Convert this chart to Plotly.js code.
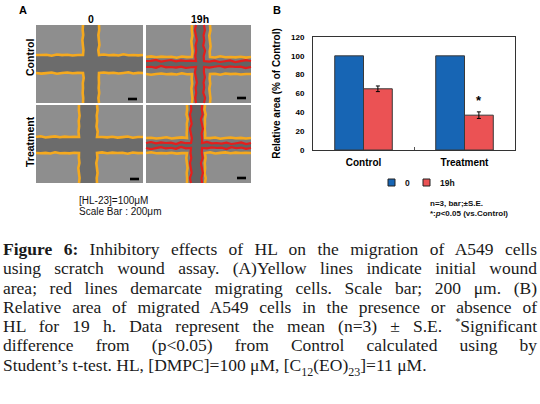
<!DOCTYPE html>
<html><head><meta charset="utf-8">
<script src="https://cdn.plot.ly/plotly-3.0.1.min.js"></script>
<style>
html,body{margin:0;padding:0;background:#fff;width:540px;height:404px;overflow:hidden}
#chart{position:absolute;left:0;top:0;width:540px;height:404px}
#cap{position:absolute;left:3px;top:240px;width:534px;font-family:"Liberation Serif","DejaVu Serif",serif;font-size:17.5px;line-height:19.3px;color:#1a1a1a}
#cap div{text-align:justify;text-align-last:justify;white-space:nowrap}
#cap div.last{text-align-last:left}
</style></head>
<body>
<div id="chart"></div>
<div id="cap">
<div><b>Figure 6:</b> Inhibitory effects of HL on the migration of A549 cells</div>
<div>using scratch wound assay. (A)Yellow lines indicate initial wound</div>
<div>area; red lines demarcate migrating cells. Scale bar; 200 μm. (B)</div>
<div>Relative area of migrated A549 cells in the presence or absence of</div>
<div>HL for 19 h. Data represent the mean (n=3) ± S.E. <sup style="font-size:10px;line-height:0">*</sup>Significant</div>
<div>difference from (p&lt;0.05) from Control calculated using by</div>
<div class="last">Student’s t-test. HL, [DMPC]=100 μM, [C<sub style="font-size:12px;line-height:0">12</sub>(EO)<sub style="font-size:12px;line-height:0">23</sub>]=11 μM.</div>
</div>
<script>
// ---- data ----
const categories = ['Control', 'Treatment'];
const seriesNames = ['0', '19h'];
const hour0 = [100, 100];
const hour19 = [65, 37];
const hour19SE = [3, 3.5];
const signif = ['', '*'];
const seriesColors = ['#1765b4', '#eb5254'];
const yTicks = [0, 20, 40, 60, 80, 100, 120];

const W = 540, H = 404;
const px = x => x / W, py = y => 1 - y / H;
const FONT = '"Liberation Sans", Arial, sans-serif';
const BARGAP = 0.43;

const traces = [
  {type: 'bar', x: categories, y: hour0, name: seriesNames[0],
   marker: {color: seriesColors[0], line: {color: '#3a3a3a', width: 1}}, hoverinfo: 'y'},
  {type: 'bar', x: categories, y: hour19, name: seriesNames[1],
   marker: {color: seriesColors[1], line: {color: '#3a3a3a', width: 1}},
   error_y: {type: 'data', array: hour19SE, visible: true, color: '#000', thickness: 1, width: 2}, hoverinfo: 'y'}
];

// ---- panel A (decorative micrograph sketches) ----
const P = [0, 0.5, -0.3, 0.9, 0.2, -0.6, 1, 0.1, -0.8, 0.4, -0.2, 0.7, -1, 0.3];
function jagPath(points, amp, step, phase) {
  let d = '', k = phase || 0;
  for (let i = 0; i < points.length - 1; i++) {
    const [x1, y1] = points[i], [x2, y2] = points[i + 1];
    const L = Math.hypot(x2 - x1, y2 - y1), n = Math.max(1, Math.round(L / step));
    const ux = (x2 - x1) / L, uy = (y2 - y1) / L, nx = -uy, ny = ux;
    for (let j = (i === 0 ? 0 : 1); j <= n; j++) {
      const t = j / n;
      const o = (j === 0 || j === n) ? 0 : amp * P[k % P.length]; k++;
      const x = x1 + (x2 - x1) * t + nx * o, y = y1 + (y2 - y1) * t + ny * o;
      d += (d ? 'L' : 'M') + px(x).toFixed(5) + ',' + py(y).toFixed(5);
    }
  }
  return d;
}
function rect(x0, y0, x1, y1, color) {
  return {type: 'rect', xref: 'paper', yref: 'paper', x0: px(x0), x1: px(x1), y0: py(y1), y1: py(y0),
          fillcolor: color, line: {width: 0}, layer: 'above'};
}
function corners(im, v, h) {
  return [
    [[v[0], im.y0], [v[0], h[0]], [im.x0, h[0]]],
    [[v[1], im.y0], [v[1], h[0]], [im.x1, h[0]]],
    [[im.x0, h[1]], [v[0], h[1]], [v[0], im.y1]],
    [[im.x1, h[1]], [v[1], h[1]], [v[1], im.y1]]
  ];
}
const imgs = [
  {x0: 36, x1: 143, y0: 25, y1: 103, v: [83, 99], h: [55, 73], sb: [128, 137, 99]},
  {x0: 146, x1: 251, y0: 25, y1: 103, v: [192, 210], h: [57, 74], red: {v: [196, 204], h: [61, 67]}, sb: [237, 246, 98]},
  {x0: 36, x1: 143, y0: 105, y1: 183, v: [79, 97], h: [137, 153], sb: [130, 139, 179]},
  {x0: 146, x1: 251, y0: 105, y1: 183, v: [187, 205], h: [138, 153], red: {v: [191, 202], h: [143, 148]}, sb: [237, 246, 178]}
];
const shapes = [];
imgs.forEach((im, idx) => {
  shapes.push(rect(im.x0, im.y0, im.x1, im.y1, '#8e8e8e'));
  const wound = im.red ? '#7a7a7a' : '#6c6c6c';
  shapes.push(rect(im.v[0], im.y0, im.v[1], im.y1, wound));
  shapes.push(rect(im.x0, im.h[0], im.x1, im.h[1], wound));
  if (im.red) {
    shapes.push(rect(im.red.v[0], im.y0, im.red.v[1], im.y1, '#636363'));
    shapes.push(rect(im.x0, im.red.h[0], im.x1, im.red.h[1], '#636363'));
  }
  corners(im, im.v, im.h).forEach((pts, c) => shapes.push({type: 'path', xref: 'paper', yref: 'paper',
    path: jagPath(pts, 0.7, 5, idx * 3 + c), line: {color: '#f5a91e', width: 2.6}, layer: 'above'}));
  if (im.red) corners(im, im.red.v, im.red.h).forEach((pts, c) => shapes.push({type: 'path', xref: 'paper', yref: 'paper',
    path: jagPath(pts, 1.1, 5, idx * 5 + c * 2), line: {color: '#e41e1c', width: 2.2}, layer: 'above'}));
  shapes.push(rect(im.sb[0], im.sb[2] - 1.3, im.sb[1], im.sb[2] + 1.3, '#000'));
});

// manual legend
const legX = [388, 423], legText = [403, 438];
seriesNames.forEach((n, i) => shapes.push({type: 'rect', xref: 'paper', yref: 'paper',
  x0: px(legX[i]), x1: px(legX[i] + 7), y0: py(186), y1: py(179),
  fillcolor: seriesColors[i], line: {color: '#222', width: 1}}));

const ann = (text, x, y, o) => Object.assign({text, x: px(x), y: py(y), xref: 'paper', yref: 'paper',
  xanchor: 'center', yanchor: 'middle',
  showarrow: false, font: {family: FONT, size: 10, color: '#000'}}, o || {});
const annotations = [
  ann('<b>A</b>', 23, 10, {font: {family: FONT, size: 11, color: '#000'}}),
  ann('<b>B</b>', 277, 10, {font: {family: FONT, size: 11, color: '#000'}}),
  ann('<b>0</b>', 91, 19, {font: {family: FONT, size: 10.5, color: '#000'}}),
  ann('<b>19h</b>', 200, 19, {font: {family: FONT, size: 10.5, color: '#000'}}),
  ann('<b>Control</b>', 30, 58, {textangle: -90, font: {family: FONT, size: 10.5, color: '#000'}}),
  ann('<b>Treatment</b>', 30, 142, {textangle: -90, font: {family: FONT, size: 10.5, color: '#000'}}),
  ann('[HL-23]=100μM', 77, 200, {xanchor: 'left', font: {family: FONT, size: 10, color: '#111'}}),
  ann('Scale Bar : 200μm', 77, 211, {xanchor: 'left', font: {family: FONT, size: 10, color: '#111'}}),
  ann('<b>n=3, bar;±S.E.</b>', 428, 203, {xanchor: 'left', font: {family: FONT, size: 8, color: '#111'}}),
  ann('<b>*:<i>p</i><0.05 (vs.Control)</b>', 428, 213, {xanchor: 'left', font: {family: FONT, size: 8, color: '#111'}})
];
seriesNames.forEach((n, i) => annotations.push(ann('<b>' + n + '</b>', legText[i], 182.5,
  {xanchor: 'left', font: {family: FONT, size: 8.5, color: '#111'}})));
signif.forEach((s, i) => { if (s) annotations.push({text: '<b>' + s + '</b>', xref: 'x', yref: 'y',
  x: i + (1 - BARGAP) / 4, y: hour19[i] + hour19SE[i] + 2, yanchor: 'bottom', showarrow: false,
  font: {family: FONT, size: 13, color: '#000'}}); });

const layout = {
  width: W, height: H, margin: {l: 0, r: 0, t: 0, b: 0},
  paper_bgcolor: '#fff', plot_bgcolor: '#fff', showlegend: false,
  barmode: 'group', bargap: BARGAP, bargroupgap: 0,
  xaxis: {domain: [px(313), px(515)], type: 'category', range: [-0.5, 1.5],
    showline: true, mirror: true, linecolor: '#333', linewidth: 1, showgrid: false,
    tickson: 'boundaries', ticks: 'inside', ticklen: 3, tickcolor: '#555',
    tickfont: {family: FONT, size: 10, color: '#000'}, ticklabelstandoff: 3,
    tickvals: categories, ticktext: categories.map(c => '<b>' + c + '</b>')},
  yaxis: {domain: [py(150), py(37)], range: [0, 120], tickvals: yTicks,
    ticktext: yTicks.map(v => '<b>' + v + '</b>'),
    showline: true, mirror: true, linecolor: '#333', linewidth: 1, showgrid: false, zeroline: false,
    ticks: '', tickfont: {family: FONT, size: 8, color: '#000'}, ticklabelstandoff: 6,
    title: {text: '<b>Relative area (% of Control)</b>', font: {family: FONT, size: 10, color: '#000'}, standoff: 8}},
  shapes, annotations
};
Plotly.newPlot('chart', traces, layout, {displayModeBar: false, staticPlot: true});
</script>
</body></html>
